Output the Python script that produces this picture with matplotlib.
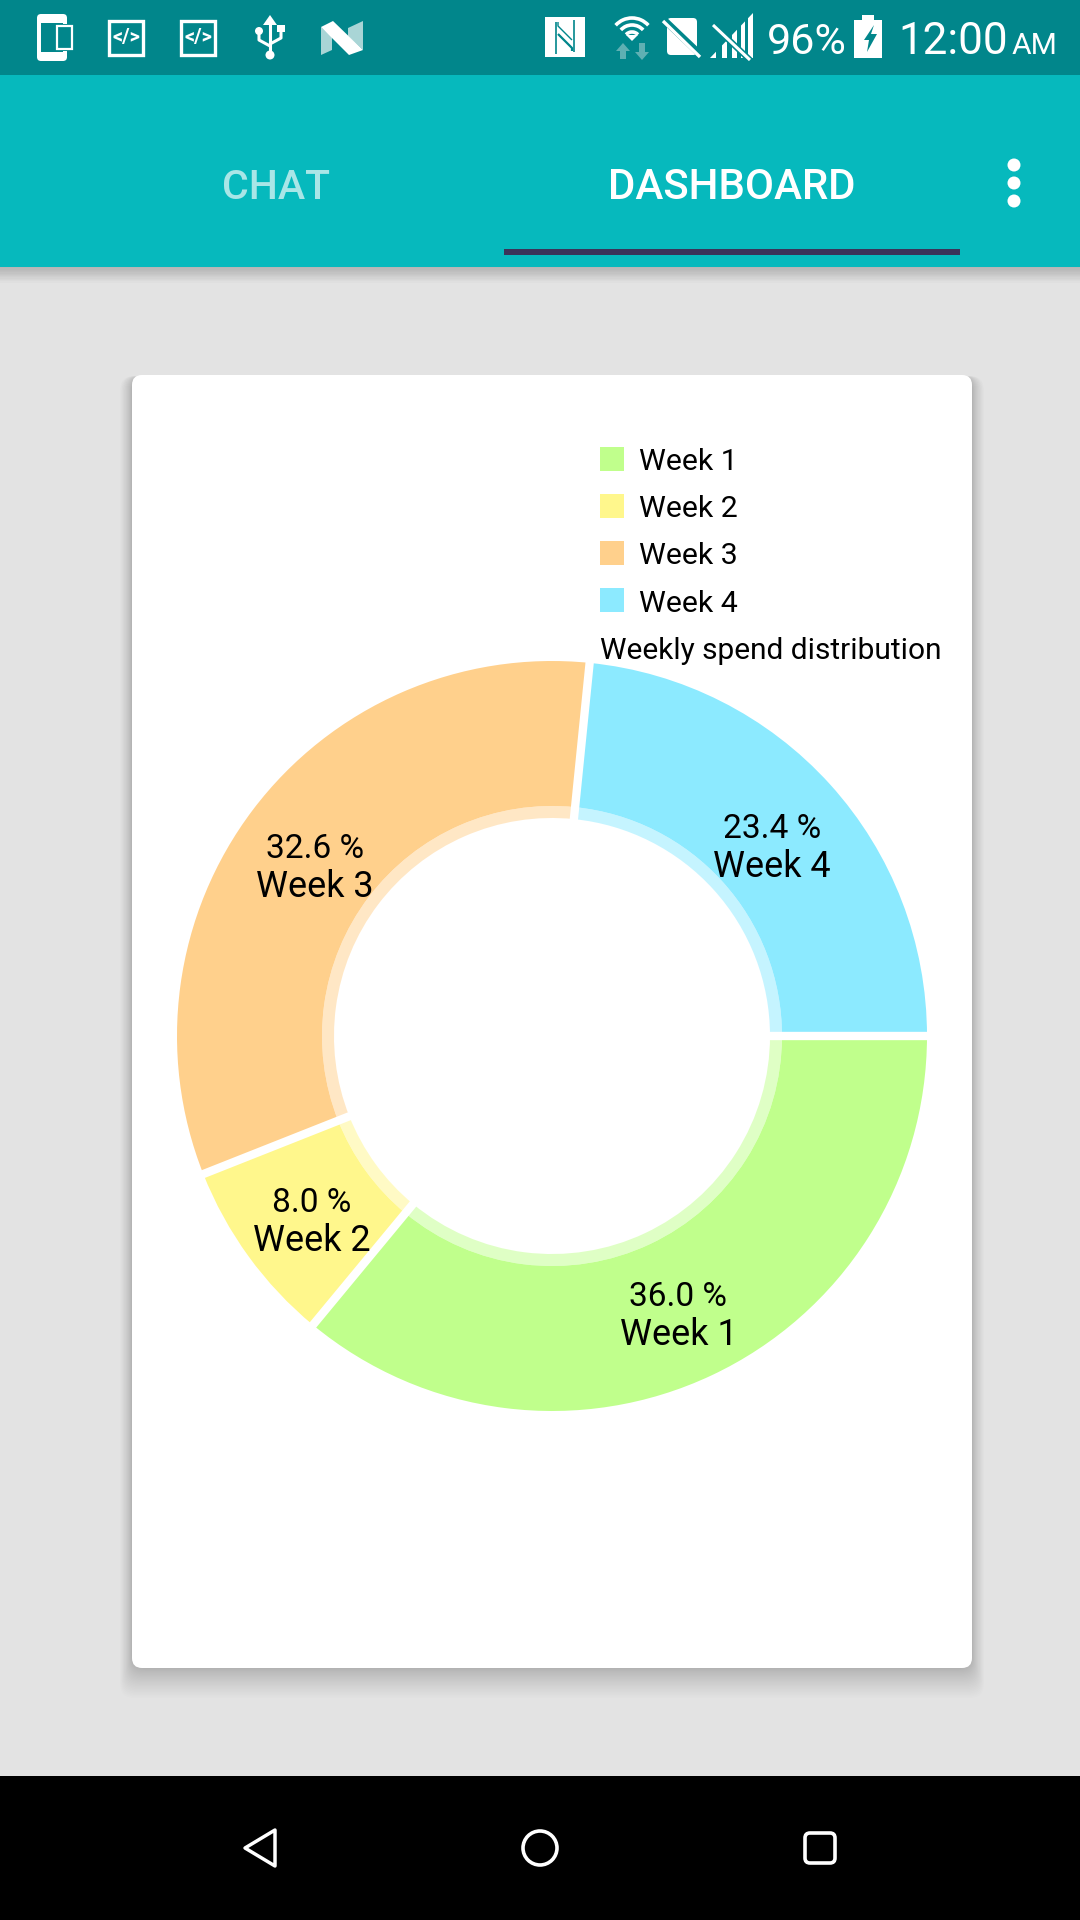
import matplotlib
matplotlib.use("Agg")
import matplotlib.pyplot as plt
from matplotlib.patches import Rectangle, FancyBboxPatch, Circle, Polygon, Arc
import numpy as np

plt.rcParams['font.family'] = ['Roboto', 'DejaVu Sans']

categories = ['Week 1', 'Week 2', 'Week 3', 'Week 4']
values = [36.0, 8.0, 32.6, 23.4]
colors = ['#C0FF8C', '#FFF78C', '#FFD08C', '#8CEAFF']
chart_title = 'Weekly spend distribution'

W, H = 1080, 1920
fig = plt.figure(figsize=(W/100, H/100), dpi=100)
ui = fig.add_axes([0, 0, 1, 1])
ui.set_xlim(0, W); ui.set_ylim(H, 0); ui.axis('off')
PT = 0.72
TEAL = '#01868B'

def rect(x0, y0, x1, y1, c, z=1, a=1):
    ui.add_patch(Rectangle((x0, y0), x1-x0, y1-y0, fc=c, ec='none', zorder=z, alpha=a))

def poly(pts, c, z=6):
    ui.add_patch(Polygon(pts, closed=True, fc=c, ec='none', zorder=z))

def seg(xs, ys, c='white', lw=2.2, z=6, cap='butt'):
    ui.plot(xs, ys, color=c, lw=lw, zorder=z, solid_capstyle=cap)

def txt(x, y, s, size, c='white', ha='left', va='baseline', w='normal'):
    ui.text(x, y, s, fontsize=size*PT, color=c, ha=ha, va=va, fontweight=w, zorder=20)

# backgrounds
rect(0, 0, W, H, '#E3E3E3', 0)
for i in range(12):
    rect(0, 267, W, 267 + 1.3*(i+1), '#000000', 1, 0.014)
rect(0, 0, W, 75, TEAL, 3)
rect(0, 75, W, 267, '#06B9BD', 3)
rect(504, 249, 960, 255, '#3B3459', 4)
rect(0, 1776, W, H, '#000000', 5)

# card with soft shadow
N = 26
for i in range(N):
    t = (1 - i/(N-1))**1.3
    side, bottom = 12*t, 30*t
    ui.add_patch(FancyBboxPatch((132-side, 376), 840+2*side, 1292+bottom,
                 boxstyle='round,pad=0,rounding_size=14', fc='black', ec='none',
                 alpha=0.0075, zorder=1))
ui.add_patch(FancyBboxPatch((132, 375), 840, 1293, boxstyle='round,pad=0,rounding_size=10',
             fc='white', ec='none', zorder=2))

# tabs
txt(276, 199, 'CHAT', 41, '#A9E6E7', 'center', w=500)
txt(732, 199, 'DASHBOARD', 42, 'white', 'center', w=500)
for y in (165, 183, 201):
    ui.add_patch(Circle((1014, y), 6.5, fc='white', ec='none', zorder=6))

# status bar: left icons
ui.add_patch(FancyBboxPatch((39, 16), 26, 43, boxstyle='round,pad=2,rounding_size=4', fc='white', ec='none', zorder=6))
rect(41, 23, 63, 52, TEAL, 7)
rect(55, 24, 74, 51, TEAL, 8)
ui.add_patch(Rectangle((57, 26), 15, 23, fc='none', ec='white', lw=1.6, zorder=9))
for x0 in (107, 179):
    ui.add_patch(Rectangle((x0+1.7, 20.7), 34.6, 34.6, fc='none', ec='white', lw=2.4, zorder=6))
    txt(x0+19, 38, '</>', 20, 'white', 'center', 'center', 'bold')
# usb
seg([270, 270], [22, 54])
poly([(270, 15), (263, 25), (277, 25)], 'white')
ui.add_patch(Circle((270, 55), 4.5, fc='white', zorder=6))
seg([259, 259, 270], [32, 40, 46])
seg([281, 281, 270], [30, 38, 44])
ui.add_patch(Circle((259, 31), 4, fc='white', zorder=6))
rect(277, 25, 285, 32, 'white', 6)
# N logo
poly([(321, 27), (332, 37), (332, 50), (321, 55)], '#A9D5D6')
poly([(348, 28), (363, 21), (363, 50), (348, 36)], '#A9D5D6')
poly([(321, 27), (333, 21), (363, 50), (349, 55)], 'white', 7)

# status bar: right icons
rect(545, 17, 585, 57, 'white', 6)
seg([556, 556], [22, 54], TEAL, 1.2, 7)
seg([574, 574], [20, 52], TEAL, 1.2, 7)
seg([558, 572, 572], [34, 48, 51], TEAL, 1.6, 7)
seg([558, 558, 572], [22, 26, 40], TEAL, 1.0, 7)
# wifi
for r in (22, 15, 8):
    ui.add_patch(Arc((632, 40), r*2, r*2, theta1=222, theta2=318, ec='white', lw=2.6, zorder=6))
poly([(632, 41), (626, 35), (638, 35)], 'white')
ARROW = '#5FB0B3'
poly([(623, 43), (616, 51), (620, 51), (620, 59), (626, 59), (626, 51), (630, 51)], ARROW)
poly([(642, 60), (635, 52), (639, 52), (639, 43), (645, 43), (645, 52), (649, 52)], ARROW)
# sim
ui.add_patch(FancyBboxPatch((669, 20), 26, 33, boxstyle='round,pad=2,rounding_size=4', fc='white', ec='none', zorder=6))
seg([660, 703], [16, 57], TEAL, 5, 7)
seg([663, 700], [21, 57], 'white', 2.4, 8)
# signal
for x0, x1 in ((710, 716), (722, 727), (732, 737), (741, 745), (748, 753)):
    poly([(x0, 58), (x0, 58-(x0-710)*45/43), (x1, 58-(x1-710)*45/43), (x1, 58)], 'white')
seg([710, 752], [22, 62], TEAL, 4.5, 7)
seg([713, 750], [25, 60], 'white', 2.2, 8)
txt(767, 54, '96%', 43)
# battery
rect(854, 20, 882, 58, 'white', 6)
rect(862, 15, 874, 21, 'white', 6)
poly([(874, 25), (864, 40), (869, 40), (867, 52), (877, 34), (871, 34)], TEAL, 7)
txt(898, 54, '12:00', 44)
txt(1012, 54, 'AM', 30)

# nav buttons
ui.add_patch(Polygon([(245, 1848), (275, 1830), (275, 1866)], closed=True, fc='none', ec='white', lw=2.5, joinstyle='round', zorder=6))
ui.add_patch(Circle((540, 1848), 17, fc='none', ec='white', lw=2.6, zorder=6))
ui.add_patch(FancyBboxPatch((805, 1833), 30, 30, boxstyle='round,pad=0,rounding_size=5', fc='none', ec='white', lw=2.6, zorder=6))

# legend
for i, (name, col) in enumerate(zip(categories, colors)):
    y0 = [447, 494, 541, 588][i]
    rect(600, y0, 624, y0+24, col, 6)
    txt(639, y0 + [23, 23, 23, 24][i], name, 30.2, 'black')
txt(600, 659, chart_title, 29.9, 'black')

# donut
cx, cy, R = 552, 1036, 375
R_RING, R_HOLE = 230, 218
pie = fig.add_axes([(cx-R-6)/W, 1-(cy+R+6)/H, 2*(R+6)/W, 2*(R+6)/H])
pie.patch.set_alpha(0)
pie.pie(values, colors=colors, radius=R, startangle=0, counterclock=False,
        wedgeprops=dict(width=R-R_RING, linewidth=0))
pie.pie(values, colors=colors, radius=R_RING, startangle=0, counterclock=False,
        wedgeprops=dict(width=R_RING-R_HOLE, linewidth=0, alpha=0.5))
pie.set_xlim(-R-6, R+6); pie.set_ylim(-R-6, R+6); pie.set_aspect('equal'); pie.axis('off')

# slice gaps and labels
cum = 0
for name, v in zip(categories, values):
    a0 = np.deg2rad(-cum*3.6)
    pie.plot([(R_HOLE-3)*np.cos(a0), (R+5)*np.cos(a0)], [(R_HOLE-3)*np.sin(a0), (R+5)*np.sin(a0)],
             color='white', lw=6, solid_capstyle='butt', zorder=5)
    mid = np.deg2rad(-(cum + v/2)*3.6)
    cum += v
    x, y = 297*np.cos(mid), 297*np.sin(mid) - 11
    pie.text(x, y + 19, f'{v:.1f} %', fontsize=33.5*PT, ha='center', va='center', color='black', zorder=8)
    pie.text(x, y - 19, name, fontsize=36*PT, ha='center', va='center', color='black', zorder=8)

fig.savefig('out.png', dpi=100)
